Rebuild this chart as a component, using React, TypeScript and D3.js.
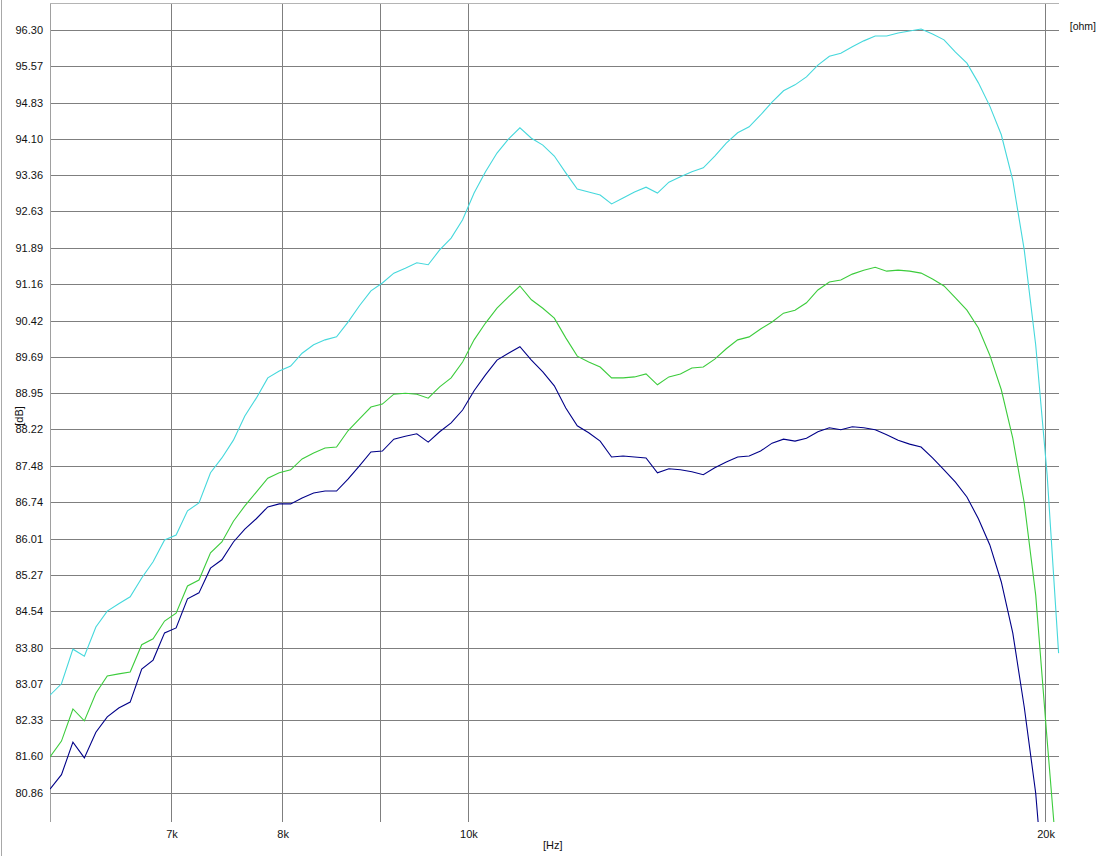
import { useEffect, useRef } from 'react'
import * as d3 from 'd3'

const w = 1098
const h = 856

// measurement grid [Hz]
const freqs = [
  6053, 6137, 6222, 6308, 6396, 6484, 6574, 6665, 6758, 6851,
  6946, 7043, 7140, 7239, 7340, 7441, 7545, 7649, 7755, 7863,
  7972, 8082, 8194, 8308, 8423, 8540, 8658, 8778, 8900, 9023,
  9148, 9275, 9404, 9534, 9666, 9800, 9936, 10074, 10213, 10355,
  10498, 10644, 10792, 10941, 11093, 11247, 11403, 11561, 11721, 11883,
  12048, 12215, 12385, 12556, 12730, 12907, 13086, 13267, 13451, 13638,
  13826, 14018, 14212, 14409, 14609, 14812, 15017, 15225, 15436, 15650,
  15867, 16087, 16310, 16536, 16765, 16998, 17234, 17472, 17715, 17960,
  18209, 18462, 18717, 18977, 19240, 19507, 19777, 20051, 20329,
]

// [dB] per curve
const splCyan = [
  82.84, 83.07, 83.77, 83.63, 84.22, 84.54, 84.69, 84.83, 85.21, 85.54,
  85.98, 86.08, 86.57, 86.73, 87.34, 87.64, 88.00, 88.49, 88.85, 89.26,
  89.40, 89.50, 89.76, 89.93, 90.03, 90.09, 90.39, 90.72, 91.02, 91.18,
  91.38, 91.48, 91.59, 91.55, 91.85, 92.09, 92.46, 93.00, 93.43, 93.81,
  94.09, 94.32, 94.11, 93.97, 93.75, 93.41, 93.08, 93.02, 92.96, 92.78,
  92.90, 93.02, 93.12, 93.00, 93.22, 93.33, 93.43, 93.51, 93.75, 94.01,
  94.22, 94.34, 94.58, 94.84, 95.07, 95.19, 95.35, 95.59, 95.77, 95.83,
  95.96, 96.08, 96.18, 96.18, 96.24, 96.28, 96.32, 96.22, 96.10, 95.85,
  95.63, 95.23, 94.76, 94.18, 93.26, 91.85, 89.93, 87.30, 83.69,
]

const splGreen = [
  81.59, 81.91, 82.56, 82.32, 82.88, 83.23, 83.27, 83.31, 83.86, 83.98,
  84.34, 84.50, 85.05, 85.17, 85.72, 85.94, 86.36, 86.67, 86.95, 87.23,
  87.34, 87.40, 87.62, 87.74, 87.84, 87.86, 88.19, 88.43, 88.67, 88.73,
  88.93, 88.95, 88.93, 88.85, 89.08, 89.26, 89.58, 90.03, 90.37, 90.67,
  90.90, 91.12, 90.84, 90.67, 90.47, 90.07, 89.70, 89.58, 89.48, 89.26,
  89.26, 89.28, 89.34, 89.12, 89.28, 89.34, 89.46, 89.48, 89.64, 89.85,
  90.03, 90.09, 90.25, 90.39, 90.57, 90.63, 90.78, 91.04, 91.20, 91.24,
  91.36, 91.44, 91.50, 91.42, 91.44, 91.42, 91.38, 91.26, 91.12, 90.88,
  90.63, 90.27, 89.72, 89.02, 88.04, 86.73, 84.87, 81.93, 79.10,
]

const splNavy = [
  80.94, 81.23, 81.89, 81.57, 82.09, 82.40, 82.58, 82.70, 83.37, 83.55,
  84.10, 84.20, 84.79, 84.91, 85.41, 85.58, 85.94, 86.20, 86.41, 86.65,
  86.71, 86.71, 86.83, 86.93, 86.97, 86.97, 87.21, 87.48, 87.76, 87.78,
  88.02, 88.08, 88.13, 87.96, 88.17, 88.35, 88.61, 89.00, 89.32, 89.62,
  89.76, 89.89, 89.62, 89.38, 89.10, 88.65, 88.29, 88.15, 87.98, 87.66,
  87.68, 87.66, 87.64, 87.34, 87.42, 87.40, 87.36, 87.30, 87.44, 87.56,
  87.66, 87.68, 87.78, 87.94, 88.02, 87.98, 88.04, 88.17, 88.25, 88.21,
  88.27, 88.25, 88.21, 88.11, 88.00, 87.92, 87.86, 87.64, 87.40, 87.15,
  86.85, 86.41, 85.88, 85.13, 84.10, 82.60, 80.86, 78.09, 74.65,
]

const yTicks = [
  96.30, 95.57, 94.83, 94.10, 93.36, 92.63, 91.89, 91.16, 90.42, 89.69, 88.95,
  88.22, 87.48, 86.74, 86.01, 85.27, 84.54, 83.80, 83.07, 82.33, 81.60, 80.86,
]
const xTicks = [7000, 8000, 9000, 10000, 20000]
const xTickLabels = ['7k', '8k', '', '10k', '20k']

const series = [
  { name: 'cyan', values: splCyan, color: '#45d8dc' },
  { name: 'green', values: splGreen, color: '#3ccc3c' },
  { name: 'navy', values: splNavy, color: '#000088' },
]

function App() {
  const ref = useRef<SVGSVGElement>(null)

  useEffect(() => {
    const marginLeft = 50
    const plotRight = 1059
    const plotTop = 3
    const plotBottom = 822
    const font = '"Liberation Sans", Arial, sans-serif'

    const xScale = d3.scaleLog()
      .domain([freqs[0], freqs[freqs.length - 1]])
      .range([marginLeft, 1058.6])
    const yScale = d3.scaleLinear()
      .domain([yTicks[yTicks.length - 1], yTicks[0]])
      .range([793, 30])

    const svg = d3.select(ref.current)
    svg.selectAll('*').remove()

    svg.append('rect').attr('width', w).attr('height', h).attr('fill', '#fff')

    // window frame on the far left
    svg.append('line')
      .attr('x1', 1.5).attr('x2', 1.5).attr('y1', 0).attr('y2', h)
      .attr('stroke', '#a8a8a8')

    const crisp = (v: number) => Math.round(v) + 0.5

    // horizontal grid
    svg.append('g').selectAll('line').data(yTicks).join('line')
      .attr('x1', marginLeft).attr('x2', plotRight)
      .attr('y1', d => crisp(yScale(d))).attr('y2', d => crisp(yScale(d)))
      .attr('stroke', '#7f7f7f')

    // vertical grid
    svg.append('g').selectAll('line').data(xTicks).join('line')
      .attr('x1', d => crisp(xScale(d))).attr('x2', d => crisp(xScale(d)))
      .attr('y1', plotTop).attr('y2', plotBottom)
      .attr('stroke', '#7f7f7f')

    // frame
    svg.append('line')
      .attr('x1', marginLeft + 0.5).attr('x2', marginLeft + 0.5)
      .attr('y1', plotTop).attr('y2', plotBottom)
      .attr('stroke', '#a0a0a0')
    svg.append('line')
      .attr('x1', marginLeft).attr('x2', plotRight)
      .attr('y1', plotTop + 0.5).attr('y2', plotTop + 0.5)
      .attr('stroke', '#b4b4b4')

    // y labels
    svg.append('g').selectAll('text').data(yTicks).join('text')
      .attr('x', 43)
      .attr('y', d => yScale(d) + 4)
      .attr('text-anchor', 'end')
      .attr('font-family', font)
      .attr('font-size', '11px')
      .attr('fill', '#111')
      .text(d => d.toFixed(2))

    // x labels
    svg.append('g').selectAll('text').data(xTicks).join('text')
      .attr('x', d => xScale(d) + 1)
      .attr('y', 838)
      .attr('text-anchor', 'middle')
      .attr('font-family', font)
      .attr('font-size', '11px')
      .attr('fill', '#111')
      .text((d, i) => xTickLabels[i])

    svg.append('text')
      .attr('x', 543).attr('y', 849)
      .attr('font-family', font).attr('font-size', '11px').attr('fill', '#111')
      .text('[Hz]')

    svg.append('text')
      .attr('transform', 'translate(23, 416) rotate(-90)')
      .attr('text-anchor', 'middle')
      .attr('font-family', font).attr('font-size', '11px').attr('fill', '#111')
      .text('[dB]')

    svg.append('text')
      .attr('x', 1096).attr('y', 30)
      .attr('text-anchor', 'end')
      .attr('font-family', font).attr('font-size', '10.5px').attr('fill', '#111')
      .text('[ohm]')

    svg.append('clipPath').attr('id', 'plot-clip')
      .append('rect')
      .attr('x', marginLeft).attr('y', plotTop)
      .attr('width', plotRight - marginLeft + 2).attr('height', plotBottom - plotTop)

    const line = d3.line<number>()
      .x((d, i) => xScale(freqs[i]))
      .y(d => yScale(d))

    svg.append('g').attr('clip-path', 'url(#plot-clip)')
      .selectAll('path').data(series).join('path')
      .attr('d', d => line(d.values))
      .attr('fill', 'none')
      .attr('stroke', d => d.color)
      .attr('stroke-width', 1.1)
  }, [])

  return (
    <svg ref={ref} width={w} height={h}
      style={{ position: 'absolute', left: 0, top: 0, display: 'block' }} />
  )
}

export default App
